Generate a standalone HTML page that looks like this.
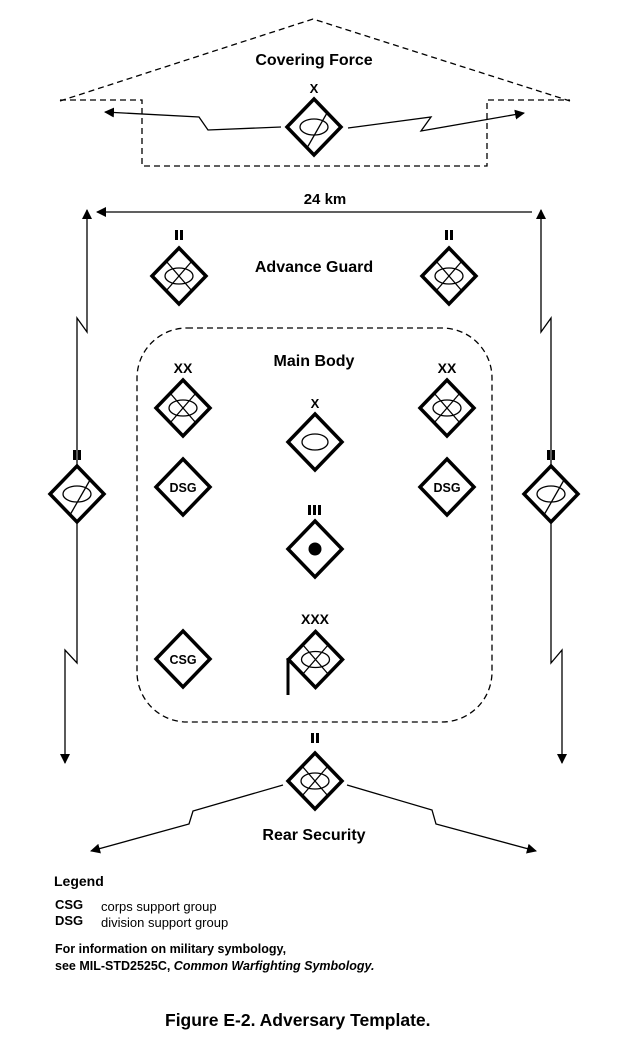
<!DOCTYPE html>
<html><head><meta charset="utf-8"><style>
html,body{margin:0;padding:0;background:#fff;}
svg{display:block;font-family:"Liberation Sans",Arial,sans-serif;}
</style></head><body>
<svg width="620" height="1040" viewBox="0 0 620 1040" xmlns="http://www.w3.org/2000/svg">
<defs>
<g id="dm"><polygon points="0,-28 27,0 0,28 -27,0" fill="#fff" stroke="#000" stroke-width="3.5" stroke-linejoin="miter"/></g>
<g id="recon"><use href="#dm"/><ellipse cx="0" cy="0" rx="14" ry="8" fill="none" stroke="#000" stroke-width="1.3"/><line x1="-7" y1="21" x2="13" y2="-14" stroke="#000" stroke-width="1.3"/></g>
<g id="xinf"><use href="#dm"/><ellipse cx="0" cy="0" rx="14" ry="8" fill="none" stroke="#000" stroke-width="1.3"/><line x1="-13" y1="-15" x2="13" y2="15" stroke="#000" stroke-width="1.3"/><line x1="13" y1="-15" x2="-13" y2="15" stroke="#000" stroke-width="1.3"/></g>
<marker id="ah" viewBox="0 0 10 10" refX="9" refY="5" markerWidth="10" markerHeight="10" markerUnits="userSpaceOnUse" orient="auto"><path d="M0,0 L10,5 L0,10 z" fill="#000"/></marker>
</defs>

<!-- Covering force outline -->
<g fill="none" stroke="#000" stroke-width="1.3" stroke-dasharray="6,4">
<polyline points="60,101 313,19 570,101"/>
<polyline points="60,100 142,100 142,166 487,166 487,100 570,100"/>
</g>
<text x="314" y="65" font-size="16" font-weight="bold" text-anchor="middle">Covering Force</text>
<text x="314" y="93" font-size="13" font-weight="bold" text-anchor="middle">X</text>
<use href="#recon" x="314" y="127"/>
<g fill="none" stroke="#000" stroke-width="1.3">
<polyline points="281,127 208,130 199,117 105,112" marker-end="url(#ah)"/>
<polyline points="348,128 431,117 421,131 524,113" marker-end="url(#ah)"/>
</g>

<!-- 24 km -->
<text x="325" y="204" font-size="15" font-weight="bold" text-anchor="middle">24 km</text>
<g fill="none" stroke="#000" stroke-width="1.3">
<line x1="532" y1="212" x2="97" y2="212" marker-end="url(#ah)"/>
<polyline points="77,465 77,318 87,332 87,210" marker-end="url(#ah)"/>
<polyline points="551,465 551,318 541,332 541,210" marker-end="url(#ah)"/>
<polyline points="77,523 77,663 65,650 65,763" marker-end="url(#ah)"/>
<polyline points="551,523 551,663 562,650 562,763" marker-end="url(#ah)"/>
</g>

<!-- Advance guard -->
<text x="314" y="272" font-size="16" font-weight="bold" text-anchor="middle">Advance Guard</text>
<g fill="#000"><rect x="175" y="230" width="3" height="10"/><rect x="180" y="230" width="3" height="10"/>
<rect x="445" y="230" width="3" height="10"/><rect x="450" y="230" width="3" height="10"/></g>
<use href="#xinf" x="179" y="276"/>
<use href="#xinf" x="449" y="276"/>

<!-- Main body -->
<rect x="137" y="328" width="355" height="394" rx="50" ry="50" fill="none" stroke="#000" stroke-width="1.3" stroke-dasharray="6,4"/>
<text x="314" y="366" font-size="16" font-weight="bold" text-anchor="middle">Main Body</text>
<text x="183" y="373" font-size="14" font-weight="bold" text-anchor="middle">XX</text>
<text x="447" y="373" font-size="14" font-weight="bold" text-anchor="middle">XX</text>
<use href="#xinf" x="183" y="408"/>
<use href="#xinf" x="447" y="408"/>
<use href="#dm" x="183" y="487"/><text x="183" y="492" font-size="12.5" font-weight="bold" text-anchor="middle">DSG</text>
<use href="#dm" x="447" y="487"/><text x="447" y="492" font-size="12.5" font-weight="bold" text-anchor="middle">DSG</text>
<use href="#dm" x="183" y="659"/><text x="183" y="664" font-size="12.5" font-weight="bold" text-anchor="middle">CSG</text>
<text x="315" y="408" font-size="13" font-weight="bold" text-anchor="middle">X</text>
<use href="#dm" x="315" y="442"/><ellipse cx="315" cy="442" rx="13" ry="8" fill="none" stroke="#000" stroke-width="1.3"/>
<g fill="#000"><rect x="308" y="505" width="3" height="10"/><rect x="313" y="505" width="3" height="10"/><rect x="318" y="505" width="3" height="10"/></g>
<use href="#dm" x="315" y="549"/><circle cx="315" cy="549" r="6.5" fill="#000"/>
<text x="315" y="624" font-size="14" font-weight="bold" text-anchor="middle">XXX</text>
<use href="#xinf" x="315.5" y="659.5"/>
<line x1="288" y1="658" x2="288" y2="695" stroke="#000" stroke-width="3"/>

<!-- Left/right II -->
<g fill="#000"><rect x="73" y="450" width="3" height="10"/><rect x="78" y="450" width="3" height="10"/>
<rect x="547" y="450" width="3" height="10"/><rect x="552" y="450" width="3" height="10"/></g>
<use href="#recon" x="77" y="494"/>
<use href="#recon" x="551" y="494"/>

<!-- Rear security -->
<g fill="#000"><rect x="311" y="733" width="3" height="10"/><rect x="316" y="733" width="3" height="10"/></g>
<use href="#xinf" x="315" y="781"/>
<g fill="none" stroke="#000" stroke-width="1.3">
<polyline points="283,785 193,811 189,824 91,851" marker-end="url(#ah)"/>
<polyline points="347,785 432,810 436,824 536,851" marker-end="url(#ah)"/>
</g>
<text x="314" y="840" font-size="16" font-weight="bold" text-anchor="middle">Rear Security</text>

<!-- Legend -->
<text x="54" y="886" font-size="14" font-weight="bold">Legend</text>
<text x="55" y="909" font-size="13" font-weight="bold">CSG</text>
<text x="101" y="911" font-size="13">corps support group</text>
<text x="55" y="925" font-size="13" font-weight="bold">DSG</text>
<text x="101" y="927" font-size="13">division support group</text>
<text x="55" y="953" font-size="12.5" font-weight="bold">For information on military symbology,</text>
<text x="55" y="970" font-size="12.5" font-weight="bold">see MIL-STD2525C, <tspan font-style="italic">Common Warfighting Symbology.</tspan></text>
<text x="165" y="1026" font-size="17.5" font-weight="bold">Figure E-2. Adversary Template.</text>
</svg>
</body></html>
